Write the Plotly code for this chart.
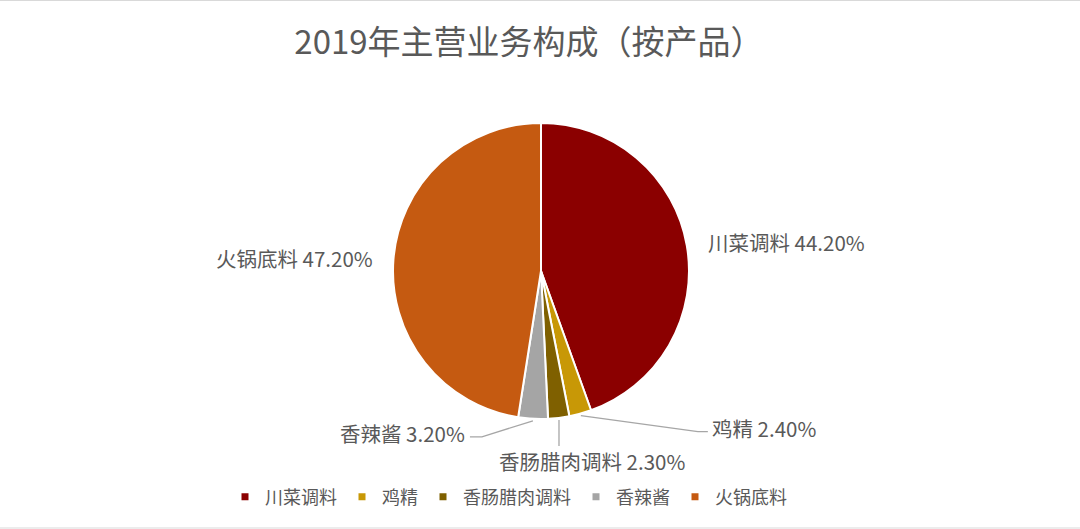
import math
import plotly.graph_objects as go

# ---- data ----
categories = ["川菜调料", "鸡精", "香肠腊肉调料", "香辣酱", "火锅底料"]
shares = [44.2, 2.4, 2.3, 3.2, 47.2]
colors = ["#8B0000", "#C89806", "#7F6000", "#A5A5A5", "#C55A11"]
title_text = "2019年主营业务构成（按产品）"

# ---- layout constants (pixels) ----
W, H = 1080, 529
CX, CY, R = 541, 271, 148
FONT = "Noto Sans CJK SC"
TXT = "#595959"
LINE = "#A6A6A6"

def px(x):
    return x / W

def py(y):
    return 1 - y / H

# label placement style per category
label_style = {
    "川菜调料": dict(kind="direct", gap=19),
    "火锅底料": dict(kind="direct", gap=19),
    "鸡精": dict(kind="leader", elbow=(117, 16), run=10, anchor="left", tdy=-4),
    "香肠腊肉调料": dict(kind="leader", elbow=(0, 26), run=0, anchor="center", tdy=15),
    "香辣酱": dict(kind="leader", elbow=(-51, 16), run=-12, anchor="right", tdy=-4),
}

total = sum(shares)
fig = go.Figure()
fig.add_trace(go.Pie(
    labels=categories, values=shares, sort=False, direction="clockwise",
    rotation=0, marker=dict(colors=colors, line=dict(color="white", width=2)),
    textinfo="none", hoverinfo="label+value", showlegend=False,
    domain=dict(x=[px(CX - R), px(CX + R)], y=[py(CY + R), py(CY - R)]),
))

# legend via dummy traces with small square markers
for c, col in zip(categories, colors):
    fig.add_trace(go.Scatter(x=[None], y=[None], mode="markers", name=c,
                             marker=dict(symbol="square", size=7, color=col),
                             showlegend=True))

shapes = []
annotations = []
cum = 0.0
for c, v in zip(categories, shares):
    mid = (cum + v / 2) / total * 360.0
    cum += v
    a = math.radians(mid)
    sx, sy = math.sin(a), -math.cos(a)
    st = label_style[c]
    text = f"{c} {v:.2f}%"
    if st["kind"] == "direct":
        rx = CX + (R + st["gap"]) * sx
        ry = CY + (R + st["gap"]) * sy
        annotations.append(dict(x=px(rx), y=py(ry), xref="paper", yref="paper",
                                text=text, showarrow=False,
                                xanchor="left" if sx >= 0 else "right", yanchor="middle",
                                font=dict(family=FONT, size=20.5, color=TXT)))
    else:
        x0 = CX + (R + 2) * sx
        y0 = CY + (R + 2) * sy
        ex, ey = x0 + st["elbow"][0], y0 + st["elbow"][1]
        fx = ex + st["run"]
        path = f"M{px(x0)},{py(y0)} L{px(ex)},{py(ey)} L{px(fx)},{py(ey)}"
        shapes.append(dict(type="path", path=path, xref="paper", yref="paper",
                           line=dict(color=LINE, width=1.3)))
        if st["anchor"] == "left":
            tx = fx + 2
        elif st["anchor"] == "right":
            tx = fx - 3
        else:
            tx = fx + 33
        annotations.append(dict(x=px(tx), y=py(ey + st["tdy"]), xref="paper", yref="paper",
                                text=text, showarrow=False, xanchor=st["anchor"],
                                yanchor="middle",
                                font=dict(family=FONT, size=20.5, color=TXT)))

# light frame lines at top and bottom
shapes.append(dict(type="line", xref="paper", yref="paper", x0=0, x1=1,
                   y0=py(0.5), y1=py(0.5), line=dict(color="#D9D9D9", width=1)))
shapes.append(dict(type="line", xref="paper", yref="paper", x0=0, x1=1,
                   y0=py(528), y1=py(528), line=dict(color="#D9D9D9", width=1)))

fig.update_layout(
    width=W, height=H, margin=dict(l=0, r=0, t=0, b=0),
    paper_bgcolor="white", plot_bgcolor="white",
    title=dict(text=title_text, x=px(529), xanchor="center", y=py(42), yanchor="middle",
               font=dict(family=FONT, size=33, color=TXT)),
    xaxis=dict(visible=False), yaxis=dict(visible=False),
    legend=dict(orientation="h", x=px(225), xanchor="left", y=py(497), yanchor="middle",
                font=dict(family=FONT, size=18, color=TXT), itemsizing="trace",
                itemwidth=30, bgcolor="rgba(0,0,0,0)"),
    shapes=shapes, annotations=annotations, showlegend=True,
)

fig.write_html("out.html")
